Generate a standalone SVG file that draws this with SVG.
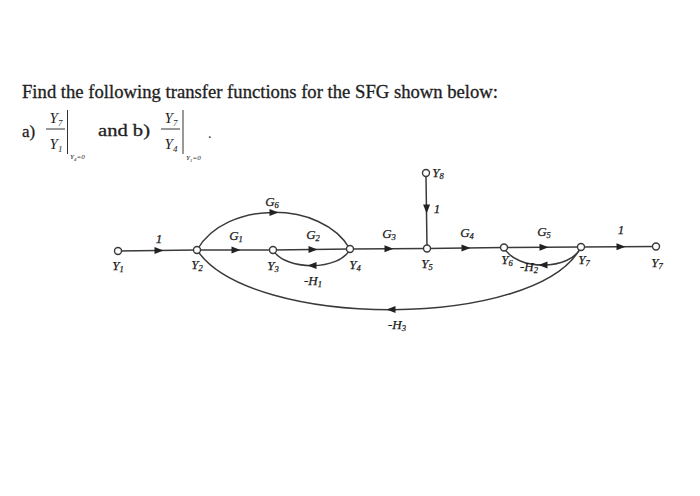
<svg xmlns="http://www.w3.org/2000/svg" width="700" height="496" viewBox="0 0 700 496">
<style>
.t{font-family:"Liberation Serif","Times New Roman",serif;fill:#1e1e1e}
.h{font-size:18px}
.lb{font-family:"Liberation Serif","Times New Roman",serif;font-style:italic;font-size:13px;fill:#1a1a1a;text-anchor:middle;stroke:#1a1a1a;stroke-width:0.25}
.sub{font-size:8.5px}
.e{fill:none;stroke:#3a3a3a;stroke-width:1.5}
.n{fill:#fff;stroke:#3a3a3a;stroke-width:1.4}
.a{fill:#222}
</style>
<defs>
<path id="ah" d="M-4.5,-3.5 L4.5,0 L-4.5,3.5 Z"/>
</defs>
<rect width="700" height="496" fill="#fff"/>
<g id="title">
<text class="t h" x="22" y="98" textLength="476" lengthAdjust="spacingAndGlyphs" stroke="#1e1e1e" stroke-width="0.3">Find the following transfer functions for the SFG shown below:</text>
<text class="t" x="22" y="137" font-size="17" stroke="#1e1e1e" stroke-width="0.3">a)</text>
<text class="t" x="56" y="123" font-size="15" font-style="italic" text-anchor="middle">Y<tspan font-size="9" dy="3">7</tspan></text>
<line x1="46" y1="129" x2="65" y2="129" stroke="#333" stroke-width="1"/>
<text class="t" x="56" y="149" font-size="15" font-style="italic" text-anchor="middle">Y<tspan font-size="9" dy="3">1</tspan></text>
<line x1="67.5" y1="110" x2="67.5" y2="154" stroke="#333" stroke-width="1"/>
<text class="t" x="70" y="159" font-size="7" font-style="italic">Y<tspan font-size="5" dy="1.5">4</tspan><tspan dy="-1.5">=0</tspan></text>
<text class="t" x="98" y="136" font-size="17" textLength="52" lengthAdjust="spacingAndGlyphs" stroke="#1e1e1e" stroke-width="0.3">and b)</text>
<text class="t" x="171" y="123" font-size="15" font-style="italic" text-anchor="middle">Y<tspan font-size="9" dy="3">7</tspan></text>
<line x1="161" y1="129" x2="180" y2="129" stroke="#333" stroke-width="1"/>
<text class="t" x="171" y="149" font-size="15" font-style="italic" text-anchor="middle">Y<tspan font-size="9" dy="3">4</tspan></text>
<line x1="183" y1="110" x2="183" y2="154" stroke="#333" stroke-width="1"/>
<text class="t" x="186" y="160" font-size="7" font-style="italic">Y<tspan font-size="5" dy="1.5">1</tspan><tspan dy="-1.5">=0</tspan></text>
<text class="t" x="208" y="138" font-size="14">.</text>
</g>
<g id="connectors">
<line class="e" x1="118" y1="251" x2="197" y2="250"/>
<line class="e" x1="197" y1="250" x2="273" y2="250"/>
<line class="e" x1="273" y1="250" x2="350" y2="249"/>
<line class="e" x1="350" y1="249" x2="427" y2="248.5"/>
<line class="e" x1="427" y1="248.5" x2="504" y2="247.5"/>
<line class="e" x1="504" y1="247.5" x2="581" y2="247"/>
<line class="e" x1="581" y1="247" x2="656" y2="246.5"/>
<line class="e" x1="426" y1="176" x2="427" y2="248.5"/>
<path class="e" d="M197,250 C225,200 322,200 350,249"/>
<path class="e" d="M350,249 C340,271 285,271 273,250"/>
<path class="e" d="M581,247 C571,271 516,271 504,247.5"/>
<path class="e" d="M581,247 C538,330 250,330 197,250"/>
<use href="#ah" class="a" transform="translate(159,250.5)"/>
<use href="#ah" class="a" transform="translate(236,250)"/>
<use href="#ah" class="a" transform="translate(274,212.5)"/>
<use href="#ah" class="a" transform="translate(313,249.5)"/>
<use href="#ah" class="a" transform="translate(389,248.8)"/>
<use href="#ah" class="a" transform="translate(426.6,209) rotate(90)"/>
<use href="#ah" class="a" transform="translate(466,248)"/>
<use href="#ah" class="a" transform="translate(544,247.2)"/>
<use href="#ah" class="a" transform="translate(621,246.8)"/>
<use href="#ah" class="a" transform="translate(312,265.5) rotate(180)"/>
<use href="#ah" class="a" transform="translate(543,265) rotate(180)"/>
<use href="#ah" class="a" transform="translate(391,309.5) rotate(180)"/>
</g>
<g id="edge-labels">
<text class="lb" x="159" y="243">1</text>
<text class="lb" x="236" y="240">G<tspan class="sub" dy="2">1</tspan></text>
<text class="lb" x="272" y="206">G<tspan class="sub" dy="2">6</tspan></text>
<text class="lb" x="313" y="239">G<tspan class="sub" dy="2">2</tspan></text>
<text class="lb" x="389" y="238">G<tspan class="sub" dy="2">3</tspan></text>
<text class="lb" x="437" y="213">1</text>
<text class="lb" x="467" y="237">G<tspan class="sub" dy="2">4</tspan></text>
<text class="lb" x="544" y="236">G<tspan class="sub" dy="2">5</tspan></text>
<text class="lb" x="621" y="234">1</text>
<text class="lb" x="313" y="285">-H<tspan class="sub" dy="2">1</tspan></text>
<text class="lb" x="529" y="271">-H<tspan class="sub" dy="2">2</tspan></text>
<text class="lb" x="397" y="329">-H<tspan class="sub" dy="2">3</tspan></text>
</g>
<g id="Y1"><circle class="n" cx="118" cy="251" r="3.5"/><text class="lb" x="118" y="270">Y<tspan class="sub" dy="2">1</tspan></text></g>
<g id="Y2"><circle class="n" cx="197" cy="250" r="3.5"/><text class="lb" x="197" y="269">Y<tspan class="sub" dy="2">2</tspan></text></g>
<g id="Y3"><circle class="n" cx="273" cy="250" r="3.5"/><text class="lb" x="273" y="270">Y<tspan class="sub" dy="2">3</tspan></text></g>
<g id="Y4"><circle class="n" cx="350" cy="249" r="3.5"/><text class="lb" x="355" y="269">Y<tspan class="sub" dy="2">4</tspan></text></g>
<g id="Y5"><circle class="n" cx="427" cy="248.5" r="3.5"/><text class="lb" x="427" y="268">Y<tspan class="sub" dy="2">5</tspan></text></g>
<g id="Y6"><circle class="n" cx="504" cy="247.5" r="3.5"/><text class="lb" x="507" y="264">Y<tspan class="sub" dy="2">6</tspan></text></g>
<g id="Y7"><circle class="n" cx="581" cy="247" r="3.5"/><text class="lb" x="584" y="264">Y<tspan class="sub" dy="2">7</tspan></text></g>
<g id="Y7out"><circle class="n" cx="656" cy="246.5" r="3.5"/><text class="lb" x="657" y="267">Y<tspan class="sub" dy="2">7</tspan></text></g>
<g id="Y8"><circle class="n" cx="426" cy="173" r="3.5"/><text class="lb" x="438" y="177">Y<tspan class="sub" dy="2">8</tspan></text></g>
</svg>
